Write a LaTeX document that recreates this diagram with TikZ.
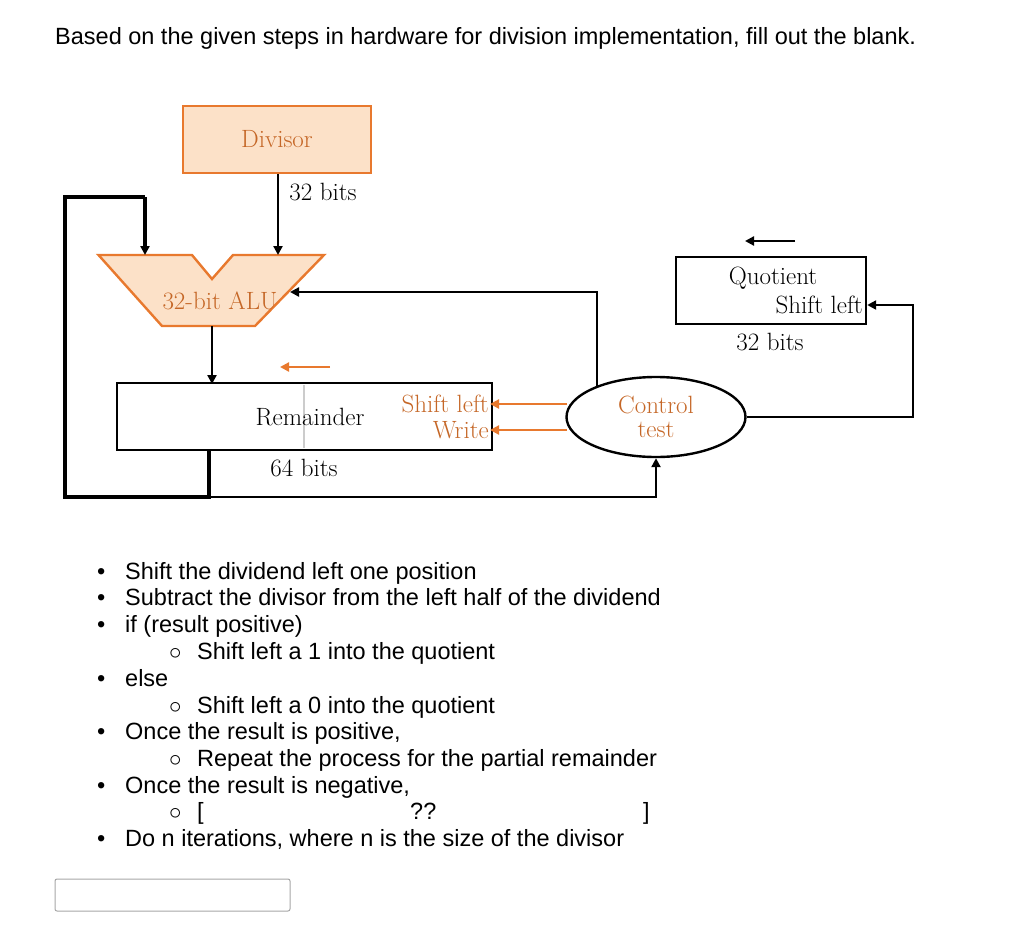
\documentclass[tikz,border=0pt]{standalone}
\usepackage{fontspec}
\newfontfamily\sans{Liberation Sans}
\usetikzlibrary{shapes.geometric,arrows.meta}
\definecolor{org}{HTML}{E8792E}
\definecolor{orgfill}{HTML}{FCE1C8}
\begin{document}
\begin{tikzpicture}[x=1pt,y=-1pt,
  dg/.style={font=\fontsize{25}{26}\selectfont},
  tx/.style={font=\sans\fontsize{23.5}{24}\selectfont,anchor=base west,inner sep=0},
  blk/.style={draw=black,line width=2.4pt},
  wire/.style={line width=2.6pt,-{Triangle[length=9pt,width=9pt]}},
  owire/.style={draw=org,line width=2.6pt,-{Triangle[length=9pt,width=9pt]}}]
\useasboundingbox (0,0) rectangle (1024,936);
\node[tx] (title) at (55,45) {Based on the given steps in hardware for division implementation, fill out the blank.};
% Divisor
\node[draw=org,fill=orgfill,line width=2.4pt,minimum width=188pt,minimum height=67pt,dg,text=org!85!black] (div) at (277,139.5) {Divisor};
% ALU
\path[draw=org,fill=orgfill,line width=2.4pt] (98.5,255) -- (192,255) -- (212,279) -- (233,255) -- (324,255) -- (255,326) -- (162,326) -- cycle;
\node[dg,text=org!85!black] (alu) at (220,301) {32-bit ALU};
\coordinate (aluL) at (145,255); \coordinate (aluR) at (278,255);
\coordinate (aluS) at (290,292); \coordinate (aluB) at (212,326);
% Remainder
\node[blk,minimum width=375pt,minimum height=67pt] (rem) at (304.5,416.5) {};
\draw[gray!40,line width=1.5pt] (304,385) -- (304,448);
\node[dg] (remt) at (310,417) {Remainder};
\node[dg,text=org!85!black,anchor=east,inner sep=1pt] (sl) at (490,404) {Shift left};
\node[dg,text=org!85!black,anchor=east,inner sep=1pt] (wr) at (490,430) {Write};
\node[dg] (b64) at (304,468) {64 bits};
\node[dg] (b32a) at (323,192) {32 bits};
\draw[owire] (330,367) -- (280,367);
% control
\node[ellipse,draw,line width=2.4pt,minimum width=179pt,minimum height=80pt,inner sep=0pt,dg,text=org!85!black,align=center] (ctl) at (656,417) {Control\\[-2pt]test};
% Quotient
\node[blk,minimum width=190pt,minimum height=67pt] (quo) at (771,290.5) {};
\node[dg] (qt) at (773,278) {Quotient};
\node[dg,anchor=east,inner sep=1pt] (qs) at (864,305) {Shift left};
\node[dg] (b32b) at (770,342) {32 bits};
\draw[wire] (795,241) -- (745,241);
% wires
\draw[wire] (div.south -| aluR) -- (aluR);
\draw[wire] (aluB) -- (212,384);
\draw[line width=4pt] (209,450) -- (209,497) -- (65,497) -- (65,197) -- (145,197);
\draw[wire,line width=4pt] (145,197) -- (aluL);
\draw[wire] (209,497) -- (656,497) -- (ctl.south);
\draw[wire] (597,{417-sqrt(1-(59/89)^2)*40}) -- (597,292) -- (aluS);
\draw[wire] (ctl.east) -- (913,417) -- (913,305) -- (quo.east |- qs);
\draw[owire] (567,404) -- (sl.east);
\draw[owire] (567,430) -- (wr.east);
% bullets
\foreach \y/\t in {579/Shift the dividend left one position,605/Subtract the divisor from the left half of the dividend,632/if (result positive),686/else,739/{Once the result is positive,},793/{Once the result is negative,},846/{Do n iterations, where n is the size of the divisor}}{
  \node[tx] at (97,\y) {\textbullet};
  \node[tx] at (125,\y) {\t};}
\foreach \y/\t in {659/Shift left a 1 into the quotient,713/Shift left a 0 into the quotient,766/Repeat the process for the partial remainder,819/[}{
  \node[tx] at (169,\y) {$\circ$};
  \node[tx] at (197,\y) {\t};}
\node[tx] (qq) at (410,819) {??};
\node[tx] (rb) at (643,819) {]};
\node[draw=gray!70,rounded corners=2pt,line width=1pt,minimum width=235pt,minimum height=32pt] (ans) at (172.5,895) {};
\end{tikzpicture}
\end{document}
